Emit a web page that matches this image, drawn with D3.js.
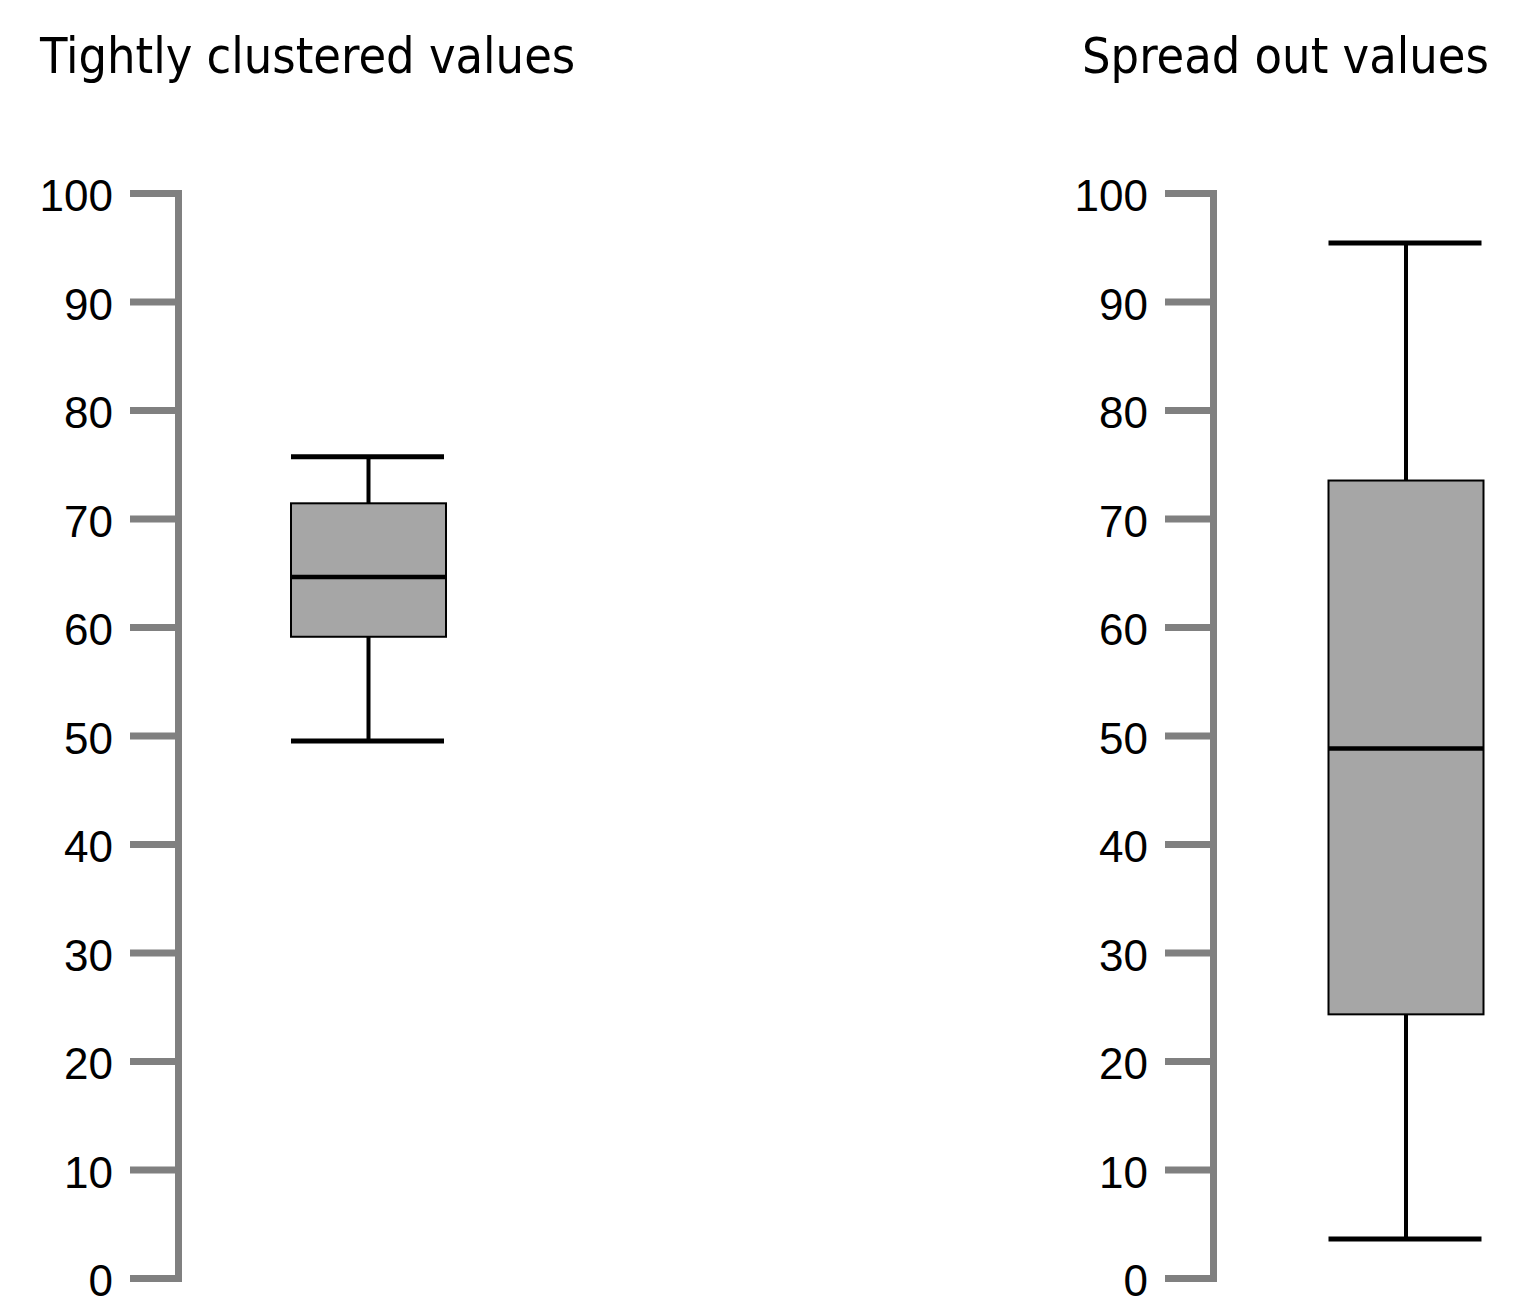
<!DOCTYPE html>
<html>
<head>
<meta charset="utf-8">
<script src="https://cdn.jsdelivr.net/npm/d3@7"></script>
<style>
  body { margin: 0; background: #fff; }
  .title { font-family: "Liberation Sans Narrow", "DejaVu Sans Condensed", sans-serif; font-size: 50px; fill: #000; }
  .tick text { font-family: "Liberation Sans", Arial, sans-serif; font-size: 44px; fill: #000; }
</style>
</head>
<body>
<div id="chart"></div>
<script>
const width = 1536, height = 1315;

// panel titles
const panels = ['Tightly clustered values', 'Spread out values'];
// five-number summaries
const mins    = [49.5, 3.6];
const q1s     = [59.1, 24.3];
const medians = [64.6, 48.8];
const q3s     = [71.4, 73.5];
const maxs    = [75.7, 95.4];
const yTicks  = [0, 10, 20, 30, 40, 50, 60, 70, 80, 90, 100];

const svg = d3.select('#chart').append('svg')
  .attr('width', width).attr('height', height);

const y = d3.scaleLinear().domain([0, 100]).range([1278, 193]);
const axisX = d3.scalePoint().domain(panels).range([178, 1213]);
const boxX = d3.scalePoint().domain(panels).range([368.5, 1406]);
const titleX = d3.scalePoint().domain(panels).range([40, 1082]);
const boxW = 155;

const data = panels.map((p, i) => ({
  name: p, min: mins[i], q1: q1s[i], median: medians[i], q3: q3s[i], max: maxs[i]
}));

data.forEach(d => {
  const ax = axisX(d.name);
  const g = svg.append('g');

  g.append('text').attr('class', 'title')
    .attr('x', titleX(d.name)).attr('y', 73)
    .text(d.name);

  const axis = g.append('g')
    .attr('transform', `translate(${ax},0)`)
    .call(d3.axisLeft(y).tickValues(yTicks).tickSize(48).tickSizeOuter(0).tickPadding(17));
  axis.select('.domain')
    .attr('stroke', '#808080').attr('stroke-width', 7).attr('stroke-linecap', 'square');
  axis.selectAll('.tick line')
    .attr('stroke', '#808080').attr('stroke-width', 7);
  axis.selectAll('.tick text').attr('dy', '0.4em');

  const cx = boxX(d.name);
  // whiskers
  g.append('line').attr('x1', cx).attr('x2', cx)
    .attr('y1', y(d.max)).attr('y2', y(d.q3))
    .attr('stroke', '#000').attr('stroke-width', 4);
  g.append('line').attr('x1', cx).attr('x2', cx)
    .attr('y1', y(d.q1)).attr('y2', y(d.min))
    .attr('stroke', '#000').attr('stroke-width', 4);
  // caps
  [d.max, d.min].forEach(v => {
    g.append('line').attr('x1', cx - boxW / 2).attr('x2', cx + boxW / 2 - 2)
      .attr('y1', y(v)).attr('y2', y(v))
      .attr('stroke', '#000').attr('stroke-width', 5);
  });
  // box
  g.append('rect')
    .attr('x', cx - boxW / 2).attr('width', boxW)
    .attr('y', y(d.q3)).attr('height', y(d.q1) - y(d.q3))
    .attr('fill', '#a6a6a6').attr('stroke', '#000').attr('stroke-width', 2);
  // median
  g.append('line').attr('x1', cx - boxW / 2).attr('x2', cx + boxW / 2)
    .attr('y1', y(d.median)).attr('y2', y(d.median))
    .attr('stroke', '#000').attr('stroke-width', 4.5);
});
</script>
</body>
</html>
